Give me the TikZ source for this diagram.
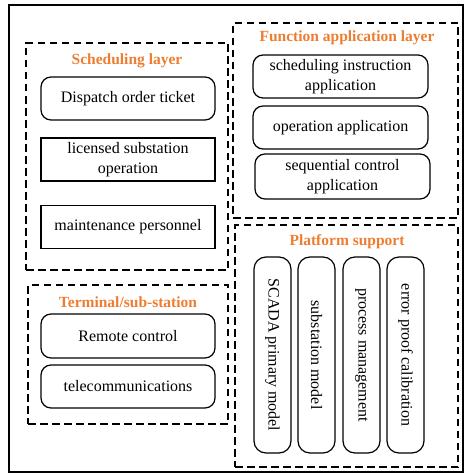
\documentclass[tikz,border=0pt]{standalone}
\usepackage{fontspec}
\setmainfont{Liberation Serif}
\definecolor{ttlorange}{RGB}{237,125,49}
\begin{document}
\begin{tikzpicture}[x=1pt,y=-1pt,
  txt/.style={font=\fontsize{16}{19.5}\selectfont, align=center, inner sep=0pt},
  rbox/.style={txt, draw, rounded corners=10pt, line width=1.2pt, minimum width=174pt, minimum height=43pt},
  sbox/.style={txt, draw, line width=1.2pt, minimum width=174pt, minimum height=43pt},
  vbox/.style={txt, draw, rounded corners=12pt, line width=1.2pt, rotate=-90, minimum width=196pt, minimum height=37pt},
  layer/.style={draw, line width=1.2pt, dash pattern=on 7.5pt off 4.5pt, inner sep=0pt},
  ttl/.style={font=\fontsize{15.5}{17}\selectfont\bfseries, text=ttlorange, inner sep=0pt}
]
\useasboundingbox (0,0) rectangle (474,476);
\node[draw, line width=1.7pt, minimum width=454pt, minimum height=467pt, inner sep=0pt] (outer) at (236,238.5) {};
% layers
\node[layer, minimum width=202pt, minimum height=227pt] (sched) at (127,156.5) {};
\node[layer, minimum width=225pt, minimum height=195pt] (func) at (345.5,120.5) {};
\node[layer, minimum width=223pt, minimum height=242pt] (plat) at (346.5,346) {};
\node[layer, minimum width=200pt, minimum height=139pt] (term) at (128,354.5) {};
% titles
\node[ttl] (tsched) at (127,61) {Scheduling layer};
\node[ttl] (tfunc) at (347,38) {Function application layer};
\node[ttl] (tplat) at (347,242) {Platform support};
\node[ttl] (tterm) at (128,302) {Terminal/sub-station};
% scheduling layer
\node[rbox] (disp) at (128,98.5) {Dispatch order ticket};
\node[sbox] (lic) at (128,159.5) {licensed substation\\operation};
\node[sbox] (maint) at (128,227) {maintenance personnel};
% terminal
\node[rbox, minimum height=44pt] (remote) at (128,336) {Remote control};
\node[rbox] (tele) at (128,386.5) {telecommunications};
% function
\node[rbox, minimum width=175pt] (sia) at (340.5,76.5) {scheduling instruction\\application};
\node[rbox, minimum width=175pt] (opa) at (340.5,127.5) {operation application};
\node[rbox, minimum width=175pt, minimum height=45pt] (sca) at (342.5,176.5) {sequential control\\application};
% platform
\node[vbox] (scada) at (272.5,355) {SCADA primary model};
\node[vbox] (subm) at (316.5,355) {substation model};
\node[vbox] (proc) at (361.5,355) {process management};
\node[vbox] (err) at (405.5,355) {error proof calibration};
\end{tikzpicture}
\end{document}
